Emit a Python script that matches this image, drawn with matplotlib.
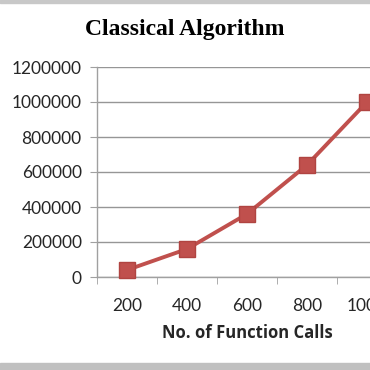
import matplotlib.pyplot as plt
from matplotlib.patches import Rectangle
import numpy as np

calls = ['200', '400', '600', '800', '1000']
values = [40000, 160000, 360000, 640000, 1000000]
yticks = [0, 200000, 400000, 600000, 800000, 1000000, 1200000]

fig = plt.figure(figsize=(3.7, 3.7), dpi=100)
fig.patch.set_facecolor('white')

# grey bands at top and bottom of the screenshot
fig.patches.append(Rectangle((0, 0.992), 1, 0.008, transform=fig.transFigure, color='#c8c8c8'))
fig.patches.append(Rectangle((0, 0), 1, 0.02, transform=fig.transFigure, color='#c0c0c0'))

ax = fig.add_axes([97 / 370, 93 / 370, 300 / 370, 210 / 370])
x = np.arange(len(calls))
ax.plot(x, values, color='#c0504d', linewidth=2.8, marker='s', markersize=11,
        markerfacecolor='#c0504d', markeredgecolor='#b04441', zorder=3, clip_on=False)

ax.set_xlim(-0.5, len(calls) - 0.5)
ax.set_ylim(0, 1200000)
ax.set_yticks(yticks)
ax.set_yticklabels([str(v) for v in yticks], fontsize=12.5, family='Lato', color='#262626')
ax.set_xticks(x)
ax.set_xticklabels(calls, fontsize=12.5, family='Lato', color='#262626')
ax.set_xticks(np.arange(-0.5, len(calls)), minor=True)
ax.tick_params(axis='x', which='major', length=0, pad=15)
ax.tick_params(axis='x', which='minor', length=5, color='#a0a0a0', direction='out')
ax.tick_params(axis='y', length=5, color='#a0a0a0', pad=6)

ax.grid(axis='y', color='#969696', linewidth=1)
ax.set_axisbelow(True)
for s in ['top', 'right']:
    ax.spines[s].set_visible(False)
for s in ['left', 'bottom']:
    ax.spines[s].set_color('#a0a0a0')
    ax.spines[s].set_linewidth(1)

fig.text(185 / 370, 1 - 30 / 370, 'Classical Algorithm', ha='center', va='center',
         fontsize=17, fontweight='bold', family='Liberation Serif')
fig.text(247 / 370, 1 - 333 / 370, 'No. of Function Calls', ha='center', va='center',
         fontsize=12, fontweight='bold', family='Open Sans', color='#262626')

fig.savefig('out.png', dpi=100)
